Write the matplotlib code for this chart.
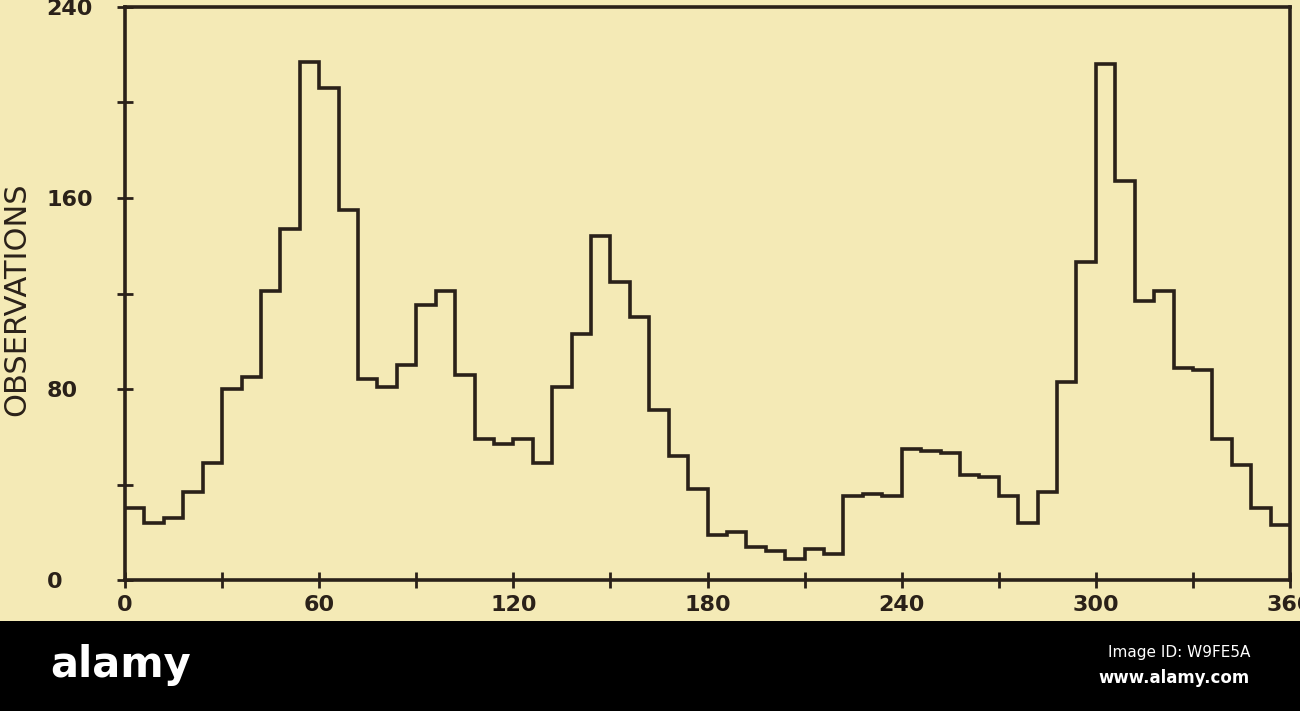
import numpy as np
import matplotlib
matplotlib.use("Agg")
import matplotlib.pyplot as plt
from matplotlib.patches import Rectangle

# ---- data (6-degree bins, 0..360) ----
bin_edges = np.arange(0, 361, 6)
observations = [30, 24, 26, 37, 49, 80, 85, 121, 147, 217,
                206, 155, 84, 81, 90, 115, 121, 86, 59, 57,
                59, 49, 81, 103, 144, 125, 110, 71, 52, 38,
                19, 20, 14, 12, 9, 13, 11, 35, 36, 35,
                55, 54, 53, 44, 43, 35, 24, 37, 83, 133,
                216, 167, 117, 121, 89, 88, 59, 48, 30, 23]
x_labels = [0, 60, 120, 180, 240, 300, 360]
y_labels = [0, 80, 160, 240]

BG = "#f4eab6"
INK = "#2a2119"

W, H = 1300, 711
fig = plt.figure(figsize=(W / 100, H / 100), dpi=100, facecolor=BG)
ax = fig.add_axes([125 / W, (H - 580) / H, (1290 - 125) / W, (580 - 7) / H])
ax.set_facecolor(BG)

ax.stairs(observations, bin_edges, color=INK, linewidth=2.6, baseline=None)

ax.set_xlim(0, 360)
ax.set_ylim(0, 240)

for s in ax.spines.values():
    s.set_color(INK)
    s.set_linewidth(2.6)

ax.set_xticks(x_labels)
ax.set_xticks(np.arange(30, 360, 60), minor=True)
ax.set_yticks(y_labels)
ax.set_yticks(np.arange(40, 240, 80), minor=True)

ax.tick_params(which="both", direction="inout", length=11, width=2, color=INK,
               top=False, right=False)
ax.tick_params(axis="x", which="major", labelsize=16, labelcolor=INK, pad=5)
ax.tick_params(axis="y", which="major", labelsize=16, labelcolor=INK, pad=51)
for lab in ax.get_yticklabels():
    lab.set_horizontalalignment("left")
    lab.set_fontweight("bold")
for lab in ax.get_xticklabels():
    lab.set_fontweight("bold")

ax.set_ylabel("OBSERVATIONS", fontsize=22, color=INK)
ax.yaxis.set_label_coords(-(125 - 31) / 1165, 0.49)

# bottom black band (stock-photo footer)
fig.patches.append(Rectangle((0, 0), 1, 90 / H, transform=fig.transFigure,
                             facecolor="black", edgecolor="none", zorder=5))
fig.text(50 / W, (H - 665) / H, "alamy", color="white", fontsize=30,
         fontweight="bold", ha="left", va="center", zorder=6)
fig.text(1250 / W, (H - 653) / H, "Image ID: W9FE5A", color="white", fontsize=11,
         ha="right", va="center", zorder=6)
fig.text(1250 / W, (H - 678) / H, "www.alamy.com", color="white", fontsize=12,
         fontweight="bold", ha="right", va="center", zorder=6)

fig.savefig("out.png", dpi=100, facecolor=BG)
